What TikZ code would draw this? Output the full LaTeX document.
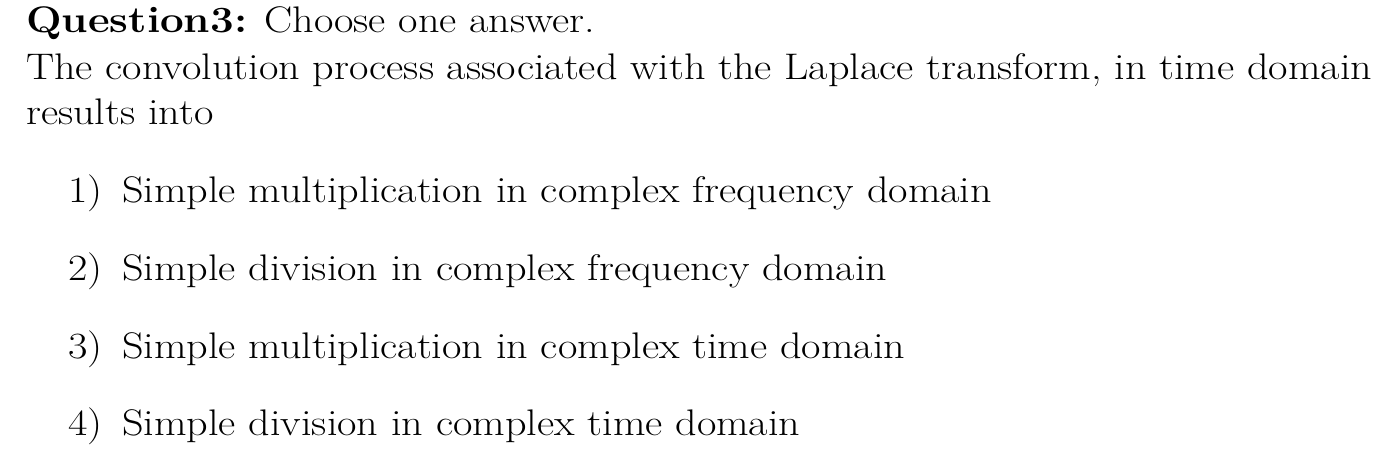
\documentclass[tikz,border=0pt]{standalone}
\newcommand{\widen}[1]{\scalebox{1.14}[1]{#1}}
\begin{document}
\begin{tikzpicture}[x=1pt,y=-1pt,
  txt/.style={anchor=base west,inner sep=0pt,font=\fontsize{37}{45}\selectfont}]
\useasboundingbox (0,0) rectangle (1400,469);
\node[txt] (q) at (26,32) {\widen{\textbf{Question3:} Choose one answer.}};
\node[txt] (l1) at (26,79) {\widen{The convolution process associated with the Laplace transform, in time domain}};
\node[txt] (l2) at (26,124) {\widen{results into}};
\node[txt] (n1) at (68,202) {\widen{1)}};
\node[txt] (a1) at (122,202) {\widen{Simple multiplication in complex frequency domain}};
\node[txt] (n2) at (68,280) {\widen{2)}};
\node[txt] (a2) at (122,280) {\widen{Simple division in complex frequency domain}};
\node[txt] (n3) at (68,358) {\widen{3)}};
\node[txt] (a3) at (122,358) {\widen{Simple multiplication in complex time domain}};
\node[txt] (n4) at (68,435) {\widen{4)}};
\node[txt] (a4) at (122,435) {\widen{Simple division in complex time domain}};
\end{tikzpicture}
\end{document}
